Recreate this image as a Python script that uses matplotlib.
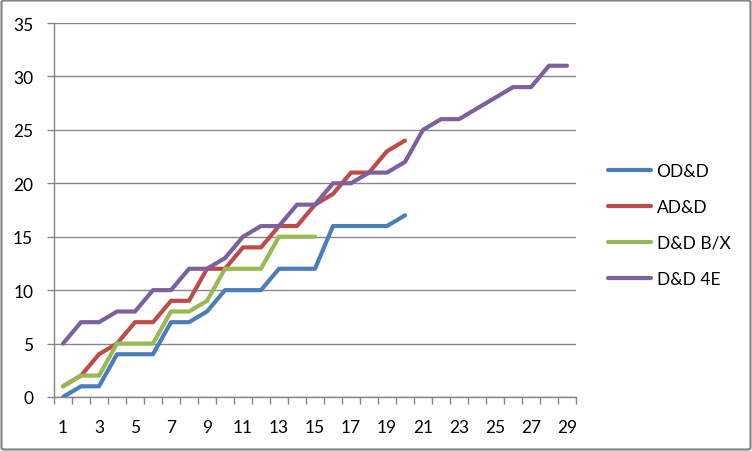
import numpy as np
import matplotlib
matplotlib.use("Agg")
import matplotlib.pyplot as plt
from matplotlib.patches import FancyBboxPatch

plt.rcParams['font.family'] = ['Lato', 'DejaVu Sans']

levels = list(range(1, 30))
odd = [0, 1, 1, 4, 4, 4, 7, 7, 8, 10, 10, 10, 12, 12, 12, 16, 16, 16, 16, 17]
add = [1, 2, 4, 5, 7, 7, 9, 9, 12, 12, 14, 14, 16, 16, 18, 19, 21, 21, 23, 24]
bx = [1, 2, 2, 5, 5, 5, 8, 8, 9, 12, 12, 12, 15, 15, 15]
dd4e = [5, 7, 7, 8, 8, 10, 10, 12, 12, 13, 15, 16, 16, 18, 18, 20, 20, 21, 21,
        22, 25, 26, 26, 27, 28, 29, 29, 31, 31]
series_names = ["OD&D", "AD&D", "D&D B/X", "D&D 4E"]
series_vals = [odd, add, bx, dd4e]
colors = ["#4A7EBB", "#BE4B48", "#98B954", "#7D60A0"]
yticks = [0, 5, 10, 15, 20, 25, 30, 35]
xlabels = [str(v) for v in range(1, 30, 2)]

W, H = 752, 452
fig = plt.figure(figsize=(W / 100, H / 100), dpi=100)
ax = fig.add_axes([54 / W, 1 - 398 / H, 522 / W, 374 / H])

grid_c = "#868686"
for name, vals, c in zip(series_names, series_vals, colors):
    ax.plot(levels[:len(vals)], vals, color=c, lw=3.0, label=name,
            solid_capstyle='round', solid_joinstyle='round')

ax.set_xlim(0.5, 29.5)
ax.set_ylim(0, 35)
ax.set_yticks(yticks)
ax.set_yticklabels([str(v) for v in yticks])
ax.yaxis.grid(True, color=grid_c, lw=1.0)
ax.set_axisbelow(True)
for s in ["top", "right"]:
    ax.spines[s].set_visible(False)
for s in ["left", "bottom"]:
    ax.spines[s].set_color(grid_c)
    ax.spines[s].set_linewidth(1.0)

ax.set_xticks(list(range(1, 30, 2)))
ax.set_xticklabels(xlabels)
ax.set_xticks(np.arange(0.5, 30, 1.0), minor=True)
ax.tick_params(axis='x', which='major', length=0, pad=16, labelsize=12.5, colors='black')
ax.tick_params(axis='x', which='minor', length=5, width=1, color=grid_c)
ax.tick_params(axis='y', which='major', length=5, width=1, color=grid_c, pad=10,
               labelsize=12.5, labelcolor='black')

fig.legend(loc='center left', bbox_to_anchor=(608 / W, 1 - 226 / H),
           bbox_transform=fig.transFigure, frameon=False, fontsize=12.5,
           handlelength=2.5, handletextpad=0.3, labelspacing=1.15,
           borderpad=0, borderaxespad=0)

border = FancyBboxPatch((1.5 / W, 1.5 / H), (W - 3) / W, (H - 3) / H,
                        boxstyle="round,pad=0,rounding_size=0.004",
                        transform=fig.transFigure, fill=False,
                        edgecolor="#868686", lw=1.6)
fig.patches.append(border)

fig.savefig("out.png", dpi=100)
